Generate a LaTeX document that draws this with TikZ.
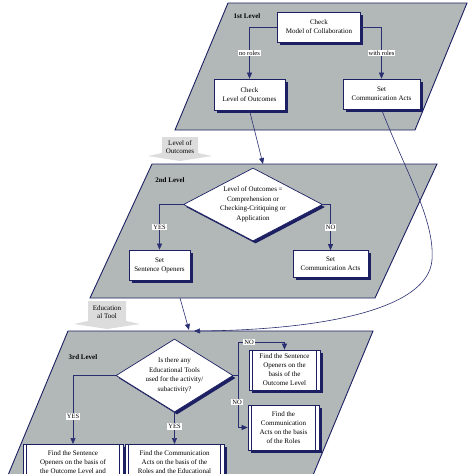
\documentclass[tikz,border=0pt]{standalone}
\usepackage{fontspec}
\setmainfont{Liberation Serif}
\usetikzlibrary{shapes.geometric,shadows,arrows.meta}
\definecolor{parfill}{RGB}{178,184,184}
\definecolor{navy}{RGB}{28,32,98}
\definecolor{lnavy}{RGB}{40,46,112}
\definecolor{banner}{RGB}{220,220,220}
\begin{document}
\begin{tikzpicture}[x=1pt,y=-1pt,
 lvl/.style={fill=parfill,draw=navy,line width=0.9pt},
 box/.style={draw=navy,fill=white,line width=0.7pt,align=center,
   font=\fontsize{7}{9}\selectfont,inner sep=2pt,
   general shadow={fill=navy,shadow xshift=2.5pt,shadow yshift=-2.5pt}},
 pbox/.style={box,inner xsep=6pt,inner ysep=3pt},
 dec/.style={diamond,draw=navy,fill=white,line width=0.7pt,align=center,
   font=\fontsize{7}{9.5}\selectfont,inner sep=0pt,
   general shadow={fill=navy,shadow xshift=2.5pt,shadow yshift=-2.5pt}},
 conn/.style={draw=lnavy,line width=0.6pt},
 arr/.style={conn,-{Triangle[length=6pt,width=5pt]}},
 lab/.style={fill=white,inner sep=1pt,font=\fontsize{6.5}{8}\selectfont},
 lvltxt/.style={font=\bfseries\fontsize{7}{8}\selectfont},
 bantxt/.style={font=\fontsize{7}{8.5}\selectfont,align=center,inner sep=0pt}]
\useasboundingbox (0,0) rectangle (474,474);
\clip (0,0) rectangle (474,474);

% level panels
\draw[lvl] (228,3) -- (467,3) -- (415,130) -- (175,130) -- cycle;
\draw[lvl] (152,164) -- (437,164) -- (375,298) -- (90,298) -- cycle;
\draw[lvl] (68,331) -- (373,331) -- (311,480) -- (6,480) -- cycle;

% banners
\fill[banner] (162,137) -- (198,137) -- (198,153) -- (212,156) -- (180,161) -- (148,156) -- (162,153) -- cycle;
\node[bantxt] (b1) at (180,147) {Level of\\Outcomes};
\fill[banner] (88,301) -- (126,301) -- (126,321) -- (140,324) -- (107,329) -- (74,324) -- (88,321) -- cycle;
\node[bantxt] (b2) at (107,312) {Education\\al Tool};

% level titles
\node[lvltxt] (t1) at (247,16) {1st Level};
\node[lvltxt] (t2) at (170,180) {2nd Level};
\node[lvltxt] (t3) at (83,357) {3rd Level};

% level 1
\node[box,minimum width=83pt,minimum height=30pt] (m) at (319,27) {Check\\Model of Collaboration};
\node[box,minimum width=71pt,minimum height=31pt] (lo) at (249.5,94.5) {Check\\Level of Outcomes};
\node[box,minimum width=77pt,minimum height=30pt] (sc1) at (381.5,94) {Set\\Communication Acts};

% level 2
\node[dec,aspect=1.9,minimum width=139pt,minimum height=73pt] (d2) at (253,204.5)
  {Level of Outcomes =\\Comprehension or\\Checking-Critiquing or\\Application};
\node[box,minimum width=61pt,minimum height=30pt] (sso) at (159.5,265) {Set\\Sentence Openers};
\node[box,minimum width=75pt,minimum height=27pt] (sc2) at (330.5,264) {Set\\Communication Acts};

% level 3
\node[dec,aspect=1.6,minimum width=117pt,minimum height=73pt] (d3) at (174.5,375.5)
  {Is there any\\Educational Tools\\used for the activity/\\subactivity?};
\node[pbox,minimum width=71pt,minimum height=40pt] (A) at (284.5,370)
  {Find the Sentence\\Openers on the\\basis of the\\Outcome Level};
\node[pbox,minimum width=71pt,minimum height=45pt] (B) at (283.5,427.5)
  {Find the\\Communication\\Acts on the basis\\of the Roles};
\node[pbox,inner ysep=6pt,minimum width=100pt,anchor=north] (C) at (73,444)
  {Find the Sentence\\Openers on the basis of\\the Outcome Level and};
\node[pbox,inner ysep=6pt,minimum width=99pt,anchor=north] (D) at (174.5,444)
  {Find the Communication\\Acts on the basis of the\\Roles and the Educational};
\foreach \n in {A,B,C,D}
  \draw[navy,line width=0.7pt] ([xshift=4pt]\n.north west) -- ([xshift=4pt]\n.south west)
    ([xshift=-4pt]\n.north east) -- ([xshift=-4pt]\n.south east);

% connectors level 1
\draw[arr] (m.west) -| node[lab,pos=0.75] {no roles} (lo.north);
\draw[arr] (m.east) -| node[lab,pos=0.75] {with roles} (sc1.north);

% between levels
\coordinate (p2t) at (263,164);
\coordinate (p2b) at (180,298);
\coordinate (p3t) at (189,330);
\coordinate (p3r) at (194,331);
\draw[arr] (lo.south) -- (p2t);
\draw[arr] (p2b) -- (p3t);
\draw[arr] (sc1.south) .. controls (405,170) and (435,220) .. (432,260)
  .. controls (428,310) and (320,330) .. (p3r);

% connectors level 2
\draw[arr] (d2.west) -| node[lab,pos=0.75] {YES} (sso.north);
\draw[arr] (d2.east) -| node[lab,pos=0.75] {NO} (sc2.north);

% connectors level 3
\draw[arr] (d3.west) -| node[lab,pos=0.8] {YES} (C.north);
\draw[arr] (d3.south) -- node[lab,pos=0.45] {YES} (D.north);
\coordinate (j) at (238,375.5);
\coordinate (ja) at (238,342);
\draw[conn] (d3.east) -- (j);
\draw[arr] (j) -- (ja) -| (A.north);
\node[lab] (n1) at (249,342) {NO};
\draw[arr] (j) |- (B.west);
\node[lab] (n2) at (237,402) {NO};
\end{tikzpicture}
\end{document}
